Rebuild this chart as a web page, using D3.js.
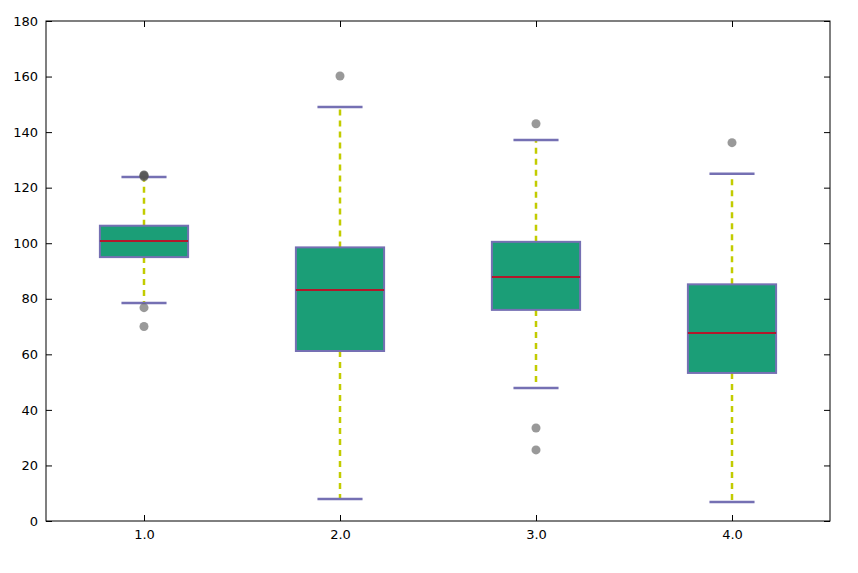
<!DOCTYPE html>
<html><head><meta charset="utf-8">
<script src="https://cdn.jsdelivr.net/npm/d3@7"></script>
<style>body{margin:0;background:#fff}</style>
</head><body>
<script>
// box statistics
var categories = [1, 2, 3, 4];
var q1 = [95, 61.2, 76, 53.3];
var median = [100.8, 83.2, 87.8, 67.7];
var q3 = [106.3, 98.5, 100.5, 85.2];
var whiskLo = [78.5, 7.9, 47.9, 6.8];
var whiskHi = [123.8, 149, 137.2, 125];
var fliers = [[124.5, 124.2, 123.9, 124.6, 76.8, 70], [160.2], [143, 33.5, 25.6], [136.2]];
var yTicks = [0, 20, 40, 60, 80, 100, 120, 140, 160, 180];

var W = 858, H = 573;
var margin = { top: 21, right: 28, bottom: 52, left: 46 };

var svg = d3.select("body").append("svg").attr("width", W).attr("height", H)
    .style("font-family", "DejaVu Sans").style("font-size", "13px");

var x = d3.scaleLinear().domain([0.5, 4.5]).range([margin.left, W - margin.right]);
var y = d3.scaleLinear().domain([0, 180]).range([H - margin.bottom, margin.top]);
var bw = x(0.45) - x(0), cw = x(0.23) - x(0);

var g = svg.append("g");
categories.forEach(function (c, i) {
    var cx = x(c);
    // whiskers
    [[q3[i], whiskHi[i]], [q1[i], whiskLo[i]]].forEach(function (p) {
        g.append("line").attr("x1", cx).attr("x2", cx).attr("y1", y(p[0])).attr("y2", y(p[1]))
            .attr("stroke", "#c2cc00").attr("stroke-width", 2.5).attr("stroke-dasharray", "6,5");
    });
    [whiskHi[i], whiskLo[i]].forEach(function (v) {
        g.append("line").attr("x1", cx - cw / 2).attr("x2", cx + cw / 2).attr("y1", y(v)).attr("y2", y(v))
            .attr("stroke", "#7570b3").attr("stroke-width", 2.5);
    });
    g.append("rect").attr("x", cx - bw / 2).attr("width", bw).attr("y", y(q3[i])).attr("height", y(q1[i]) - y(q3[i]))
        .attr("fill", "#1b9e77").attr("stroke", "#7570b3").attr("stroke-width", 2);
    g.append("line").attr("x1", cx - bw / 2).attr("x2", cx + bw / 2).attr("y1", y(median[i])).attr("y2", y(median[i]))
        .attr("stroke", "#b2182b").attr("stroke-width", 2);
    fliers[i].forEach(function (v) {
        g.append("circle").attr("cx", cx).attr("cy", y(v)).attr("r", 4.5).attr("fill", "#555").attr("fill-opacity", 0.6);
    });
});

svg.append("rect").attr("x", margin.left).attr("y", margin.top)
    .attr("width", W - margin.left - margin.right).attr("height", H - margin.top - margin.bottom)
    .attr("fill", "none").attr("stroke", "#000");

var xa = svg.append("g").attr("transform", "translate(0," + (H - margin.bottom) + ")")
    .call(d3.axisBottom(x).tickValues(categories).tickSize(-6).tickPadding(9));
var xt = svg.append("g").attr("transform", "translate(0," + margin.top + ")")
    .call(d3.axisTop(x).tickValues(categories).tickSize(-6).tickFormat(""));
var ya = svg.append("g").attr("transform", "translate(" + margin.left + ",0)")
    .call(d3.axisLeft(y).tickValues(yTicks).tickSize(-6).tickPadding(8));
var yr = svg.append("g").attr("transform", "translate(" + (W - margin.right) + ",0)")
    .call(d3.axisRight(y).tickValues(yTicks).tickSize(-6).tickFormat(""));
[xa, xt, ya, yr].forEach(function (a) {
    a.select(".domain").remove();
    a.selectAll("text").attr("fill", "#000").style("font-size", "13px").style("font-family", "DejaVu Sans");
});
</script>
</body></html>
